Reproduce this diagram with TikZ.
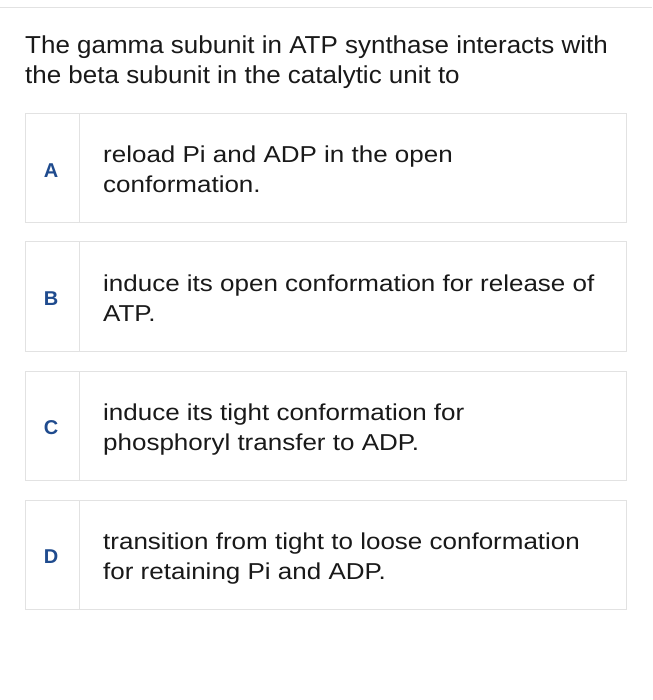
\documentclass[tikz,border=0pt]{standalone}
\usepackage{fontspec}
\setmainfont{Liberation Sans}
\newfontfamily\qf[FakeStretch=1.06]{Liberation Sans}
\newfontfamily\of[FakeStretch=1.13]{Liberation Sans}
\definecolor{lb}{HTML}{1F4B8E}
\definecolor{bd}{HTML}{E2E2E2}
\begin{document}
\begin{tikzpicture}[x=1pt,y=-1pt,
  q/.style={anchor=base west,inner sep=0,font=\qf\fontsize{24.5}{28}\selectfont,text=black!90},
  opt/.style={anchor=base west,inner sep=0,font=\of\fontsize{23}{26}\selectfont,text=black!90},
  let/.style={inner sep=0,font=\bfseries\fontsize{20}{24}\selectfont,text=lb},
  box/.style={draw=bd,line width=1pt}]
\useasboundingbox[fill=white] (0,0) rectangle (652,700);
\draw[bd,line width=1pt] (0,8) -- (652,8);
\node[q] (q1) at (25,54) {The gamma subunit in ATP synthase interacts with};
\node[q] (q2) at (25,84) {the beta subunit in the catalytic unit to};
\foreach \t/\L/\a/\b [count=\i from 0] in {
 114/A/reload Pi and ADP in the open/conformation.,
 242/B/induce its open conformation for release of/ATP.,
 371/C/induce its tight conformation for/phosphoryl transfer to ADP.,
 500/D/transition from tight to loose conformation/for retaining Pi and ADP.}{
  \draw[box] (25,\t) rectangle (626,\t+109);
  \draw[box] (79,\t) -- (79,\t+109);
  \node[let] (l\L) at (51,\t+57) {\L};
  \node[opt] (a\L) at (103,\t+49) {\a};
  \node[opt] (b\L) at (103,\t+79) {\b};
}
\end{tikzpicture}
\end{document}
